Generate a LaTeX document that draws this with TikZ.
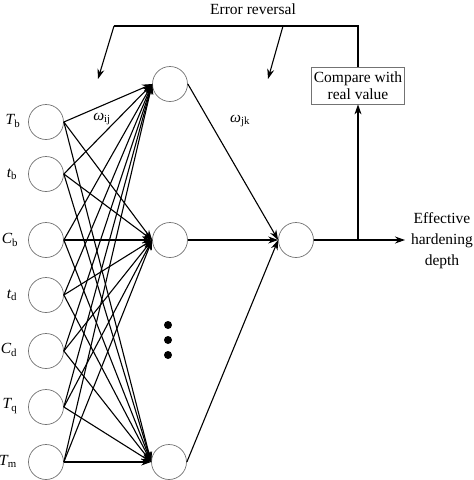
\documentclass[tikz,border=0pt]{standalone}
\usepackage{fontspec}
\setmainfont{Liberation Serif}
\usetikzlibrary{arrows.meta}
\begin{document}
\begin{tikzpicture}[x=1pt,y=-1pt,
  neuron/.style={circle,draw=black!55,line width=0.7pt,minimum size=35pt,inner sep=0pt},
  conn/.style={line width=1.1pt,-{Stealth[length=10pt,width=7pt]}},
  wire/.style={line width=1.1pt},
  lbl/.style={font=\fontsize{15.5}{17}\selectfont,inner sep=0pt},
  cbox/.style={draw=black!55,line width=0.8pt,align=center,font=\fontsize{15.5}{17}\selectfont,minimum width=93pt,minimum height=37pt,inner sep=1pt},
  dot/.style={circle,fill=black,minimum size=8pt,inner sep=0pt}]
\useasboundingbox (0,0) rectangle (474,480);
% input nodes
\node[neuron] (i1) at (46,122) {};
\node[neuron] (i2) at (46,174) {};
\node[neuron] (i3) at (46,240) {};
\node[neuron] (i4) at (46,295) {};
\node[neuron] (i5) at (46,351) {};
\node[neuron] (i6) at (46,407) {};
\node[neuron] (i7) at (46,462) {};
% hidden nodes
\node[neuron] (h1) at (170,84) {};
\node[neuron] (h2) at (170,240) {};
\node[neuron] (h3) at (169,462) {};
% output
\node[neuron] (o) at (296,240) {};
% labels
\node[lbl] (l1) at (13,121) {\itshape T\textsubscript{\upshape b}};
\node[lbl] (l2) at (12,174) {\itshape t\textsubscript{\upshape b}};
\node[lbl] (l3) at (10,240) {\itshape C\textsubscript{\upshape b}};
\node[lbl] (l4) at (12,295) {\itshape t\textsubscript{\upshape d}};
\node[lbl] (l5) at (9,350) {\itshape C\textsubscript{\upshape d}};
\node[lbl] (l6) at (10,406) {\itshape T\textsubscript{\upshape q}};
\node[lbl] (l7) at (8,461) {\itshape T\textsubscript{\upshape m}};
\node[lbl] (wij) at (102,119) {\itshape ω\textsubscript{\upshape ij}};
\node[lbl] (wjk) at (240,121) {\itshape ω\textsubscript{\upshape jk}};
% dots
\node[dot] (d1) at (168,325) {};
\node[dot] (d2) at (168,340) {};
\node[dot] (d3) at (168,355) {};
% input -> hidden
\foreach \i in {1,...,7}{
  \foreach \h in {1,2,3}{
    \draw[conn] (i\i.east) -- (h\h.west);
  }
}
% hidden -> output
\foreach \h in {1,2,3}{
  \draw[conn] (h\h.east) -- (o.west);
}
% output
\node[lbl,align=center,font=\fontsize{15.5}{21}\selectfont] (eff) at (442,241) {Effective\\hardening\\depth};
\coordinate (tip) at (405,240);
\coordinate (br) at (358,240);
\draw[conn] (o.east) -- (tip);
\node[cbox] (cmp) at (358,85.5) {Compare with\\real value};
\draw[conn] (br) -- (br |- cmp.south);
\coordinate (c1) at (358,26);
\coordinate (c2) at (114,26);
\coordinate (a1) at (283,26);
\coordinate (t1) at (98,79);
\coordinate (t2) at (268,79);
\draw[wire] (cmp.north) -- (c1) -- (c2);
\draw[conn] (c2) -- (t1);
\draw[conn] (a1) -- (t2);
\node[lbl] (err) at (253,9) {Error reversal};
\end{tikzpicture}
\end{document}
